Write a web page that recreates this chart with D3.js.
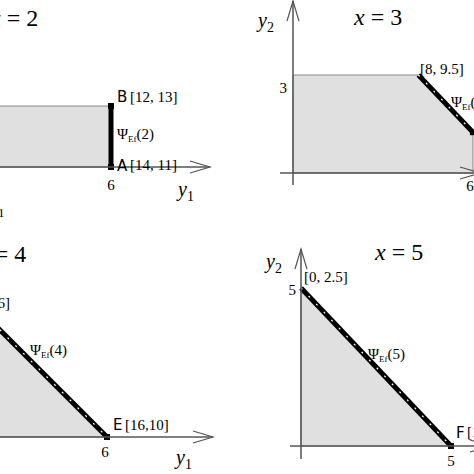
<!DOCTYPE html><html><head><meta charset="utf-8"><script src="https://cdn.jsdelivr.net/npm/d3@7"></script>
<style>body{margin:0;background:#fff}</style></head><body><svg id="c" width="474" height="474"></svg>
<script>
const panelTitles=["x = 2","x = 3","x = 4","x = 5"];
const regionTL=[[0,0],[0,2],[6,2],[6,0]];
const regionTR=[[0,0],[0,3],[4.25,3],[6.1,1.25],[6.1,0]];
const regionBL=[[0,0],[0,6],[6,0]];
const regionBR=[[0,0],[0,5],[5,0]];
const effTL=[[6,0],[6,2]];
const effTR=[[4.25,3],[6.1,1.25]];
const effBL=[[0,6],[6,0]];
const effBR=[[0,5],[5,0]];
const svg=d3.select("#c");
const serif="Liberation Serif, Times New Roman, serif", sans="DejaVu Sans, sans-serif";
const axisC="#555", fillC="#e0e0e0";
function arrowX(g,x0,x1,y){g.append("line").attr("x1",x0).attr("x2",x1).attr("y1",y).attr("y2",y).attr("stroke",axisC).attr("stroke-width",1.5);
 g.append("path").attr("d",`M${x1-20},${y-6}L${x1},${y}L${x1-20},${y+6}`).attr("fill","none").attr("stroke",axisC).attr("stroke-width",1.2);}
function arrowY(g,x,y0,y1){g.append("line").attr("x1",x).attr("x2",x).attr("y1",y0).attr("y2",y1).attr("stroke",axisC).attr("stroke-width",1.5);
 g.append("path").attr("d",`M${x-6},${y1+20}L${x},${y1}L${x+6},${y1+20}`).attr("fill","none").attr("stroke",axisC).attr("stroke-width",1.2);}
function panel(region,eff,sx,sy,vertical){
 const line=d3.line().x(d=>sx(d[0])).y(d=>sy(d[1]));
 svg.append("path").attr("d",line(region)+"Z").attr("fill",fillC).attr("stroke","#888").attr("stroke-width",1);
 if(vertical){svg.append("path").attr("d",line(eff)).attr("stroke","#000").attr("stroke-width",5);}
 else{svg.append("path").attr("d",line(eff)).attr("stroke","#000").attr("stroke-width",5);
  svg.append("path").attr("d",line(eff)).attr("stroke","#fff").attr("stroke-width",1.2).attr("stroke-dasharray","2,9");}
 eff.forEach(p=>svg.append("rect").attr("x",sx(p[0])-3).attr("y",sy(p[1])-3).attr("width",6).attr("height",6).attr("fill","#000").attr("opacity",vertical||p===eff[eff.length-1]?1:0));
}
function txt(x,y,s,f,size,anchor){return svg.append("text").attr("x",x).attr("y",y).attr("font-family",f||serif).attr("font-size",size||15).attr("text-anchor",anchor||"start").text(s);}
function psi(x,y,arg){const t=svg.append("text").attr("x",x).attr("y",y).attr("font-family",serif).attr("font-size",15);
 t.append("tspan").text("Ψ");t.append("tspan").attr("font-size",9).attr("dy",3).text("Ef");t.append("tspan").attr("dy",-3).text(arg);}
function y2(x,y){const t=svg.append("text").attr("x",x).attr("y",y).attr("font-family",serif).attr("font-style","italic").attr("font-size",20);t.append("tspan").text("y");t.append("tspan").attr("font-style","normal").attr("font-size",14).attr("dy",5).text("2");}
function y1(x,y){const t=svg.append("text").attr("x",x).attr("y",y).attr("font-family",serif).attr("font-style","italic").attr("font-size",20);t.append("tspan").text("y");t.append("tspan").attr("font-style","normal").attr("font-size",14).attr("dy",5).text("1");}
function title(x,y,s){const t=svg.append("text").attr("x",x).attr("y",y).attr("font-family",serif).attr("font-size",24);t.append("tspan").attr("font-style","italic").text(s.split(" ")[0]);t.append("tspan").text(" "+s.split(" ").slice(1).join(" "));}

// TL
let sx=d3.scaleLinear().domain([0,6]).range([-63,111]), sy=d3.scaleLinear().domain([0,2]).range([167,106]);
panel(regionTL,effTL,sx,sy,true);
arrowX(svg,0,210,167);
title(-10,26,panelTitles[0]);
txt(117,102,"B","DejaVu Sans",15);txt(130,102,"[12, 13]");psi(117,139,"(2)");txt(117,171,"A","DejaVu Sans",15);txt(130,170,"[14, 11]");
txt(111,190,"6",serif,15,"middle");y1(178,196);txt(-2,217,"1",serif,13);
// TR
sx=d3.scaleLinear().domain([0,6]).range([293,470]); sy=d3.scaleLinear().domain([0,3]).range([173,75]);
panel(regionTR,effTR,sx,sy,false);
arrowX(svg,280,480,173);arrowY(svg,293,185,1);
title(354,25,panelTitles[1]);y2(258,27);txt(287,93,"3",serif,15,"end");txt(470,191,"6",serif,15,"middle");
txt(420,74,"[8, 9.5]");psi(451,107,"(3)");
// BL
sx=d3.scaleLinear().domain([0,6]).range([-78,107]); sy=d3.scaleLinear().domain([0,6]).range([437,252]);
panel(regionBL,effBL,sx,sy,false);
arrowX(svg,0,213,437);
title(-22,262,panelTitles[2]);txt(-30,308,"[10, 6]");psi(30,355,"(4)");
txt(113,430,"E","DejaVu Sans",15);txt(125,430,"[16,10]");txt(105,457,"6",serif,15,"middle");y1(176,464);
// BR
sx=d3.scaleLinear().domain([0,5]).range([301,451]); sy=d3.scaleLinear().domain([0,5]).range([446,288]);
panel(regionBR,effBR,sx,sy,false);
arrowX(svg,290,490,446);arrowY(svg,301,459,249);
title(375,260,panelTitles[3]);y2(266,268);txt(296,295,"5",serif,15,"end");txt(451,466,"5",serif,15,"middle");
txt(304,282,"[0, 2.5]");psi(368,359,"(5)");txt(456,438,"F","DejaVu Sans",15);txt(467,437,"[18, 8]");
</script></body></html>
